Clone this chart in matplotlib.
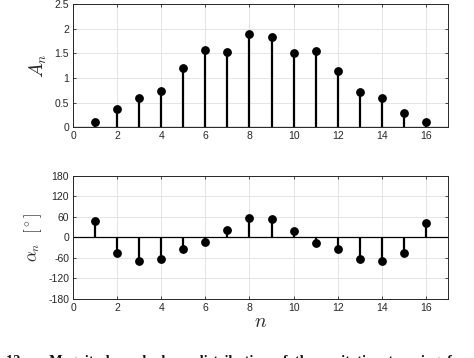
import matplotlib
matplotlib.use("Agg")
import matplotlib.pyplot as plt
import numpy as np

n = np.arange(1, 17)
A_n = [0.11, 0.365, 0.59, 0.74, 1.20, 1.56, 1.52, 1.89, 1.84, 1.51, 1.54, 1.14, 0.71, 0.59, 0.30, 0.115]
alpha_n = [49, -45, -70, -62, -34, -14, 21, 56, 54, 18, -17, -35, -64, -69, -45, 42]

xticks = [0, 2, 4, 6, 8, 10, 12, 14, 16]
yticks_top = [0, 0.5, 1, 1.5, 2, 2.5]
yticks_bot = [-180, -120, -60, 0, 60, 120, 180]

plt.rcParams['mathtext.fontset'] = 'cm'
plt.rcParams['font.family'] = ['Liberation Sans', 'DejaVu Sans']

fig = plt.figure(figsize=(4.74, 3.58), dpi=100)
ax1 = fig.add_axes([0.1547, 0.6444, 0.7898, 0.3444])
ax2 = fig.add_axes([0.1547, 0.1656, 0.7898, 0.3427])

axcol = '#262626'

def style(ax):
    ax.set_xlim(0, 17)
    ax.set_xticks(xticks)
    ax.grid(True, color='#e0e0e0', linewidth=0.6)
    ax.set_axisbelow(True)
    ax.tick_params(direction='in', length=2.5, width=0.6, colors=axcol,
                   labelsize=7.5, top=True, right=True, pad=3)
    for s in ax.spines.values():
        s.set_color(axcol)
        s.set_linewidth(0.7)

for ax, vals in ((ax1, A_n), (ax2, alpha_n)):
    ml, sl, bl = ax.stem(n, vals, linefmt='k-', markerfmt='ko', basefmt='k-')
    ml.set_markersize(5.3)
    sl.set_linewidth(1.6)
    bl.set_linewidth(0.9)
    bl.set_xdata([0, 17])
    style(ax)

ax1.set_ylim(0, 2.5)
ax1.set_yticks(yticks_top)
ax1.set_yticklabels(['0', '0.5', '1', '1.5', '2', '2.5'])
ax1.set_ylabel(r'$A_n$', fontsize=14, color=axcol, labelpad=4)

ax2.set_ylim(-180, 180)
ax2.set_yticks(yticks_bot)
ax2.set_yticklabels([str(v) for v in yticks_bot])
ax2.set_ylabel(r'$\alpha_n\ \ [^\circ]$', fontsize=12, color=axcol, labelpad=3)
ax2.set_xlabel(r'$n$', fontsize=14, color=axcol, labelpad=1)

fig.text(-0.045, -0.02, 'Fig. 12.       Magnitude  and  phase  distribution  of  the  excitation  tapering  for',
         family=['Liberation Serif', 'DejaVu Serif'], fontweight='bold', fontsize=10.3,
         ha='left', va='baseline', color='#111111')

fig.savefig('out.png', dpi=100)
